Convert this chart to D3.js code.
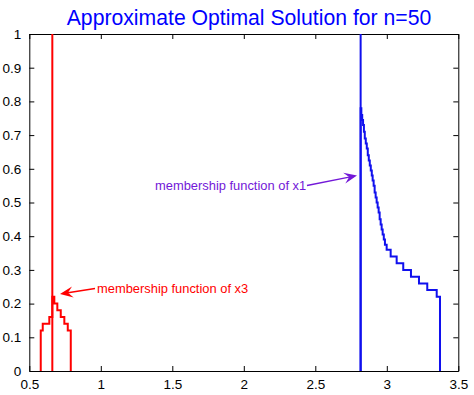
<!DOCTYPE html>
<html lang="en">
<head>
<meta charset="UTF-8">
<title>Approximate Optimal Solution for n=50</title>
<script src="https://d3js.org/d3.v7.min.js"></script>
<style>
    * { margin: 0; padding: 0; }
    body { background: #fff; font-family: "Liberation Sans", Arial, Helvetica, sans-serif; }
    .axis path, .axis line { stroke: #000; }
    .axis text { font-size: 13.5px; fill: #000; font-family: "Liberation Sans", Arial, sans-serif; }
</style>
</head>
<body>
<svg id="chart" width="474" height="395"></svg>
<script>
    // Data
    const xTicks = [0.5, 1, 1.5, 2, 2.5, 3, 3.5];
    const yTicks = [0, 0.1, 0.2, 0.3, 0.4, 0.5, 0.6, 0.7, 0.8, 0.9, 1];

    // x3 membership function (red), step starts
    const redX = [0.580, 0.594, 0.640, 0.661, 0.675, 0.696, 0.720, 0.745, 0.769, 0.790];
    const redY = [0.12, 0.14, 0.16, 0.22, 0.20, 0.18, 0.16, 0.14, 0.12, 0];
    const redSpike = 0.661;

    // x1 membership function (blue), step starts
    const blueX = [2.817, 2.822, 2.828, 2.834, 2.840, 2.846, 2.853, 2.860, 2.867, 2.874,
                   2.881, 2.888, 2.895, 2.901, 2.908, 2.915, 2.922, 2.929, 2.936, 2.943,
                   2.950, 2.957, 2.964, 2.971, 2.979, 2.987, 2.999, 3.027, 3.069, 3.115,
                   3.169, 3.225, 3.283, 3.349, 3.372];
    const blueY = [0.78, 0.76, 0.745, 0.73, 0.71, 0.69, 0.675, 0.66, 0.64, 0.625,
                   0.61, 0.595, 0.58, 0.565, 0.55, 0.53, 0.515, 0.50, 0.485, 0.47,
                   0.45, 0.435, 0.42, 0.405, 0.39, 0.375, 0.36, 0.34, 0.32, 0.30,
                   0.28, 0.26, 0.24, 0.22, 0];
    const blueSpike = 2.817;

    const svg = d3.select('#chart');
    const mLeft = 29.3, mRight = 458.3, mTop = 34, mBottom = 371;

    const x = d3.scaleLinear().domain([0.5, 3.5]).range([mLeft, mRight]);
    const y = d3.scaleLinear().domain([0, 1]).range([mBottom, mTop]);

    const fmt = d => String(d);

    // Axes with inward ticks (box on all sides)
    svg.append('g').attr('class', 'axis')
        .attr('transform', `translate(0,${mBottom})`)
        .call(d3.axisBottom(x).tickValues(xTicks).tickFormat(fmt).tickSizeInner(-5).tickSizeOuter(0).tickPadding(8));
    svg.append('g').attr('class', 'axis')
        .attr('transform', `translate(0,${mTop})`)
        .call(d3.axisTop(x).tickValues(xTicks).tickFormat('').tickSizeInner(-5).tickSizeOuter(0));
    svg.append('g').attr('class', 'axis')
        .attr('transform', `translate(${mLeft},0)`)
        .call(d3.axisLeft(y).tickValues(yTicks).tickFormat(fmt).tickSizeInner(-5).tickSizeOuter(0).tickPadding(8));
    svg.append('g').attr('class', 'axis')
        .attr('transform', `translate(${mRight},0)`)
        .call(d3.axisRight(y).tickValues(yTicks).tickFormat('').tickSizeInner(-5).tickSizeOuter(0));

    // Title
    svg.append('text')
        .attr('x', 249).attr('y', 25)
        .attr('text-anchor', 'middle')
        .attr('font-size', 21.2)
        .attr('fill', '#0000ff')
        .text('Approximate Optimal Solution for n=50');

    const step = d3.line().x(d => x(d[0])).y(d => y(d[1])).curve(d3.curveStepAfter);

    function drawMembership(xs, ys, spike, color) {
        const pts = [[xs[0], 0]].concat(xs.map((v, i) => [v, ys[i]]));
        svg.append('path').datum(pts)
            .attr('d', step).attr('fill', 'none')
            .attr('stroke', color).attr('stroke-width', 2);
        svg.append('line')
            .attr('x1', x(spike)).attr('x2', x(spike))
            .attr('y1', y(0)).attr('y2', y(1))
            .attr('stroke', color).attr('stroke-width', 2);
    }

    drawMembership(redX, redY, redSpike, '#ff0000');
    drawMembership(blueX, blueY, blueSpike, '#1010ee');

    // Annotation arrows (MATLAB style barbed heads)
    function arrow(x0, y0, x1, y1, color) {
        const ang = Math.atan2(y1 - y0, x1 - x0);
        const len = 13, half = 5.5, back = 8;
        const rot = (dx, dy) => [x1 + dx * Math.cos(ang) - dy * Math.sin(ang), y1 + dx * Math.sin(ang) + dy * Math.cos(ang)];
        const p1 = rot(-len, -half), p2 = rot(-back, 0), p3 = rot(-len, half);
        svg.append('line')
            .attr('x1', x0).attr('y1', y0).attr('x2', p2[0]).attr('y2', p2[1])
            .attr('stroke', color).attr('stroke-width', 1.4);
        svg.append('path')
            .attr('d', `M${x1},${y1}L${p1}L${p2}L${p3}Z`)
            .attr('fill', color);
    }

    const purple = '#7318d8';
    svg.append('text')
        .attr('x', 155).attr('y', 189.5)
        .attr('font-size', 12.9).attr('fill', purple)
        .text('membership function of x1');
    arrow(307, 185.5, 357, 175.5, purple);

    svg.append('text')
        .attr('x', 97).attr('y', 292.5)
        .attr('font-size', 12.9).attr('fill', '#ff0000')
        .text('membership function of x3');
    arrow(95, 288.5, 60, 294, '#ff0000');
</script>
</body>
</html>
